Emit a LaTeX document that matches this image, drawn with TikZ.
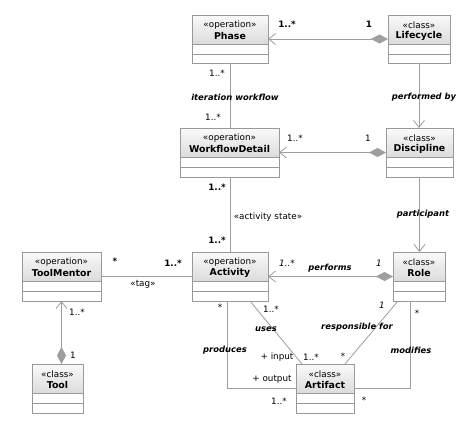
\documentclass[tikz,border=0pt]{standalone}
\usepackage{fontspec}
\setmainfont{DejaVu Sans}
\usetikzlibrary{arrows.meta}
\definecolor{linec}{gray}{0.62}
\definecolor{boxc}{gray}{0.6}
\definecolor{diamc}{gray}{0.62}
\tikzset{
 conn/.style={draw=linec, line width=0.8pt},
 comp/.style={conn, {Diamond[length=17pt,width=9pt,fill=diamc,color=diamc]}-{Straight Barb[length=7pt,width=11pt]}},
 compb/.style={conn, {Diamond[length=17pt,width=9pt,fill=diamc,color=diamc]}-},
 nav/.style={conn, -{Straight Barb[length=7pt,width=11pt]}},
 lab/.style={font=\fontsize{8.8}{10}\selectfont, inner sep=0},
 lb/.style={font=\fontsize{8.8}{10}\selectfont\bfseries, inner sep=0},
 lbi/.style={font=\fontsize{8.4}{10}\selectfont\bfseries\itshape, inner sep=0},
 li/.style={font=\fontsize{8.8}{10}\selectfont\itshape, inner sep=0},
 stereo/.style={font=\fontsize{8.8}{10}\selectfont, inner sep=0},
 ttl/.style={font=\fontsize{9.4}{11}\selectfont\bfseries, inner sep=0},
}
\newcommand{\umlbox}[7]{%
  \pgfmathsetmacro{\bxc}{(#2+#4)/2}%
  \pgfmathsetmacro{\byc}{(#3+#5)/2}%
  \shade[top color=gray!4, bottom color=gray!28] (#2,#3) rectangle (#4,{#3+29});
  \node[draw=boxc, line width=0.8pt, inner sep=0, outer sep=0,
        minimum width={(#4-#2)*1pt}, minimum height={(#5-#3)*1pt}] (#1) at (\bxc,\byc) {};
  \draw[boxc, line width=0.8pt] (#2,{#3+29}) -- (#4,{#3+29});
  \draw[boxc, line width=0.8pt] (#2,{#3+39}) -- (#4,{#3+39});
  \node[stereo] at (\bxc,{#3+10}) {«#6»};
  \node[ttl] at (\bxc,{#3+21}) {#7};
}
\begin{document}
\begin{tikzpicture}[x=1pt,y=-1pt]
\useasboundingbox (0,0) rectangle (474,426);
\fill[white] (0,0) rectangle (474,426);

\umlbox{phase}{192}{15}{268}{63}{operation}{Phase}
\umlbox{lifecycle}{388}{15}{450}{63}{class}{Lifecycle}
\umlbox{wfd}{180}{128}{279}{177}{operation}{WorkflowDetail}
\umlbox{discipline}{386}{128}{453}{177}{class}{Discipline}
\umlbox{toolmentor}{22}{252}{101}{301}{operation}{ToolMentor}
\umlbox{activity}{192}{252}{268}{301}{operation}{Activity}
\umlbox{role}{393}{252}{445}{301}{class}{Role}
\umlbox{tool}{32}{364}{83}{413}{class}{Tool}
\umlbox{artifact}{296}{364}{354}{413}{class}{Artifact}

% connectors
\draw[comp] (lifecycle.west) -- (phase.east);
\draw[conn] (phase.south) -- (phase.south |- wfd.north);
\draw[nav] (lifecycle.south) -- (lifecycle.south |- discipline.north);
\draw[comp] (discipline.west) -- (wfd.east);
\draw[conn] (activity.north) -- (activity.north |- wfd.south);
\draw[nav] (discipline.south) -- (discipline.south |- role.north);
\draw[conn] (toolmentor.east) -- (activity.west);
\draw[comp] (role.west) -- (activity.east);
\draw[comp] (toolmentor.south |- tool.north) -- (toolmentor.south);
\draw[conn] ([xshift=-3pt]activity.south) |- (artifact.west);
\draw[conn] ([xshift=20pt]activity.south) -- ([xshift=6pt]artifact.north west);
\draw[conn] ([xshift=5pt]role.south west) -- ([xshift=20pt]artifact.north);
\draw[conn] ([xshift=-9pt]role.south) |- (artifact.east);

% labels
\node[lb] (m1) at (287,24) {1..*};
\node[lb] (m2) at (369,24) {1};
\node[lab] (m3) at (217,73) {1..*};
\node[lbi] (l1) at (235,97) {iteration workflow};
\node[lbi] (l2) at (424,97) {performed by};
\node[lab] (m4) at (213,117) {1..*};
\node[lab] (m5) at (295,138) {1..*};
\node[lab] (m6) at (368,138) {1};
\node[lb] (m7) at (217,187) {1..*};
\node[lab] (l3) at (268,217) {«activity state»};
\node[lbi] (l4) at (423,214) {participant};
\node[lb] (m8) at (217,240) {1..*};
\node[lb] (m9) at (115,261) {*};
\node[lb] (m10) at (173,263) {1..*};
\node[lab] (l5) at (143,284) {«tag»};
\node[lab] (m11) at (77,312) {1..*};
\node[lab] (m12) at (73,355) {1};
\node[li] (m13) at (287,263) {1..*};
\node[lbi] (l6) at (330,268) {performs};
\node[li] (m14) at (379,263) {1};
\node[lab] (m15) at (220,307) {*};
\node[lab] (m16) at (271,309) {1..*};
\node[lbi] (l7) at (266,329) {uses};
\node[lbi] (l8) at (357,327) {responsible for};
\node[li] (m17) at (382,305) {1};
\node[lab] (m18) at (417,313) {*};
\node[lbi] (l9) at (225,350) {produces};
\node[lbi] (l10) at (411,350) {modifies};
\node[lab] (l11) at (277,357) {+ input};
\node[lab] (m19) at (311,357) {1..*};
\node[lab] (m20) at (343,356) {*};
\node[lab] (l12) at (272,379) {+ output};
\node[lab] (m21) at (279,401) {1..*};
\node[lab] (m22) at (364,400) {*};
\end{tikzpicture}
\end{document}
